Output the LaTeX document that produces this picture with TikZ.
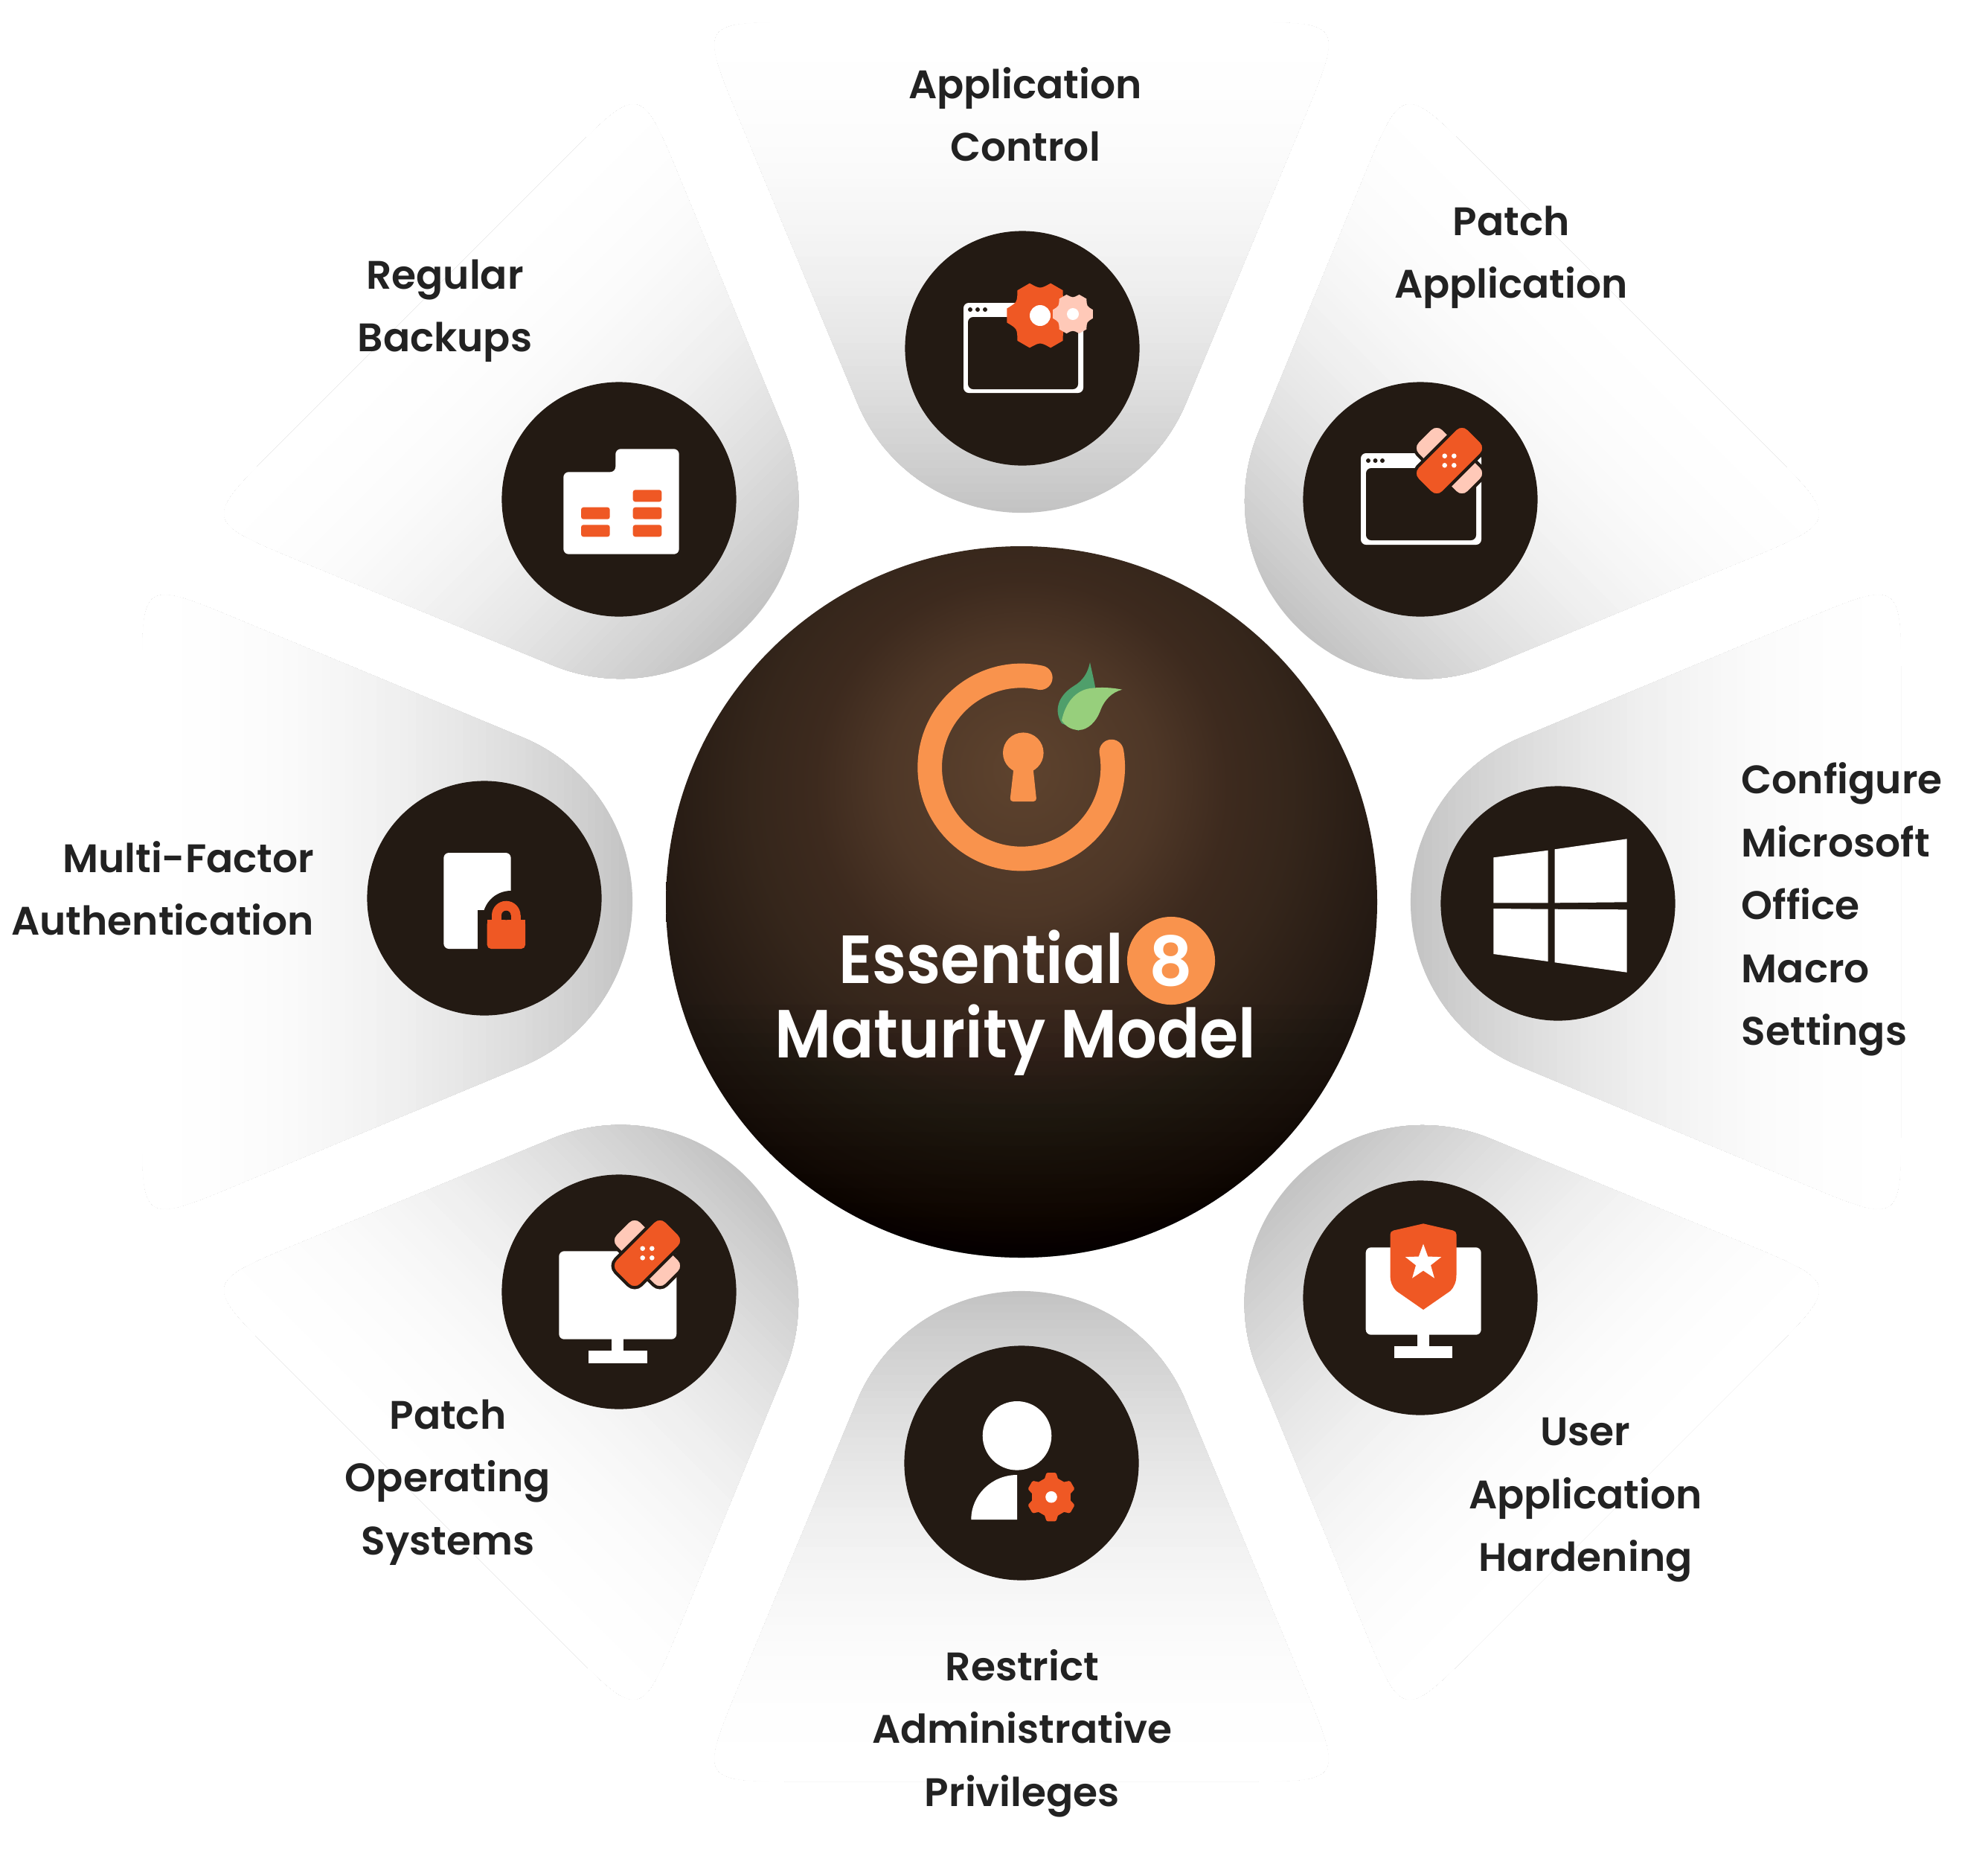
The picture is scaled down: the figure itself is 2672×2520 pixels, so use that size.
\documentclass[tikz,border=0pt]{standalone}
\usepackage{fontspec}
\setmainfont{Poppins SemiBold}
\newfontfamily\titlefont[FakeStretch=0.925]{Poppins SemiBold}
\definecolor{iconbg}{HTML}{231A13}
\definecolor{org}{HTML}{EF5824}
\definecolor{pale}{HTML}{FFC9B8}
\definecolor{ring}{HTML}{F9934D}
\definecolor{lab}{HTML}{222222}
\definecolor{leafd}{HTML}{4F9F6B}
\definecolor{leafl}{HTML}{97CF7C}
\definecolor{mg0}{HTML}{5E432E}
\definecolor{mg1}{HTML}{4E3727}
\definecolor{mg2}{HTML}{3D2A1E}
\definecolor{mg3}{HTML}{35261B}
\definecolor{mg4}{HTML}{291D15}
\definecolor{mg5}{HTML}{1D1510}
\definecolor{mg6}{HTML}{0C0806}
\pgfdeclareradialshading{mainglow}{\pgfpoint{0bp}{9.5bp}}{color(0bp)=(mg0); color(9.5bp)=(mg1); color(14.5bp)=(mg2); color(19bp)=(mg3); color(24bp)=(mg4); color(29bp)=(mg5); color(35bp)=(mg6); color(100bp)=(mg6)}
\tikzset{
  iconcirc/.style={circle,fill=iconbg,minimum size=3.15cm,inner sep=0pt},
  labeltext/.style={font=\fontsize{15.2}{24}\selectfont,text=lab,inner sep=0pt},
  titletext/.style={font=\titlefont\fontsize{26}{30}\selectfont,text=white,inner sep=0pt,anchor=base},
  rc/.style={rounded corners=2pt}
}
\newcommand\petal[2]{%
  \pgfmathsetmacro\petL{(#2-670.5)/.924}%
  \pgfmathsetmacro\petW{221+.383*\petL}%
  \pgfmathsetmacro\petA{\petW-.383*140}%
  \pgfmathsetmacro\petB{#2-.924*140}%
  \pgfmathsetmacro\petC{\petW-140}%
  \begin{scope}[shift={(1373,1212)},rotate=-#1,y=.01cm]
    \clip (221,670.5) arc[start angle=-22.5,end angle=-157.5,radius=239] -- (-\petA,\petB) .. controls (-\petW,#2) .. (-\petC,#2) -- (\petC,#2) .. controls (\petW,#2) .. (\petA,\petB) -- cycle;
    \foreach \i in {0,...,63}{%
      \pgfmathsetmacro\gv{1-.235*(1.0001-\i/63)^2.1}%
      \pgfmathsetmacro\yv{520+\i/63*(#2-520)}%
      \definecolor{bandc}{gray}{\gv}%
      \fill[bandc] (-700,\yv) rectangle (700,1300);
    }
  \end{scope}}
\newcommand\gearA[5]{% x,y,R,hole,colour
  \begin{scope}[shift={(#1,#2)}]
    \fill[#5] (12:#3) \foreach \a in {0,60,...,300}{ .. controls (\a+30:.78*#3) .. (\a+48:#3) -- (\a+72:#3)} -- cycle;
    \fill[white] (0,0) circle[radius=#4];
  \end{scope}}
\newcommand\bandage[2]{%
  \begin{scope}[shift={(#1,#2)}]
    \begin{scope}[rotate=-45]
      \filldraw[pale,draw=iconbg,line width=1.2pt,rounded corners=3.6pt] (-48.5,-24.5) rectangle (48.5,24.5);
    \end{scope}
    \begin{scope}[rotate=45]
      \filldraw[org,draw=iconbg,line width=1.2pt,rounded corners=3.6pt] (-48.5,-24.5) rectangle (48.5,24.5);
    \end{scope}
    \foreach \p in {(-6.3,-6.3),(6.3,-6.3),(-6.3,6.3),(6.3,6.3)}{\fill[white] \p circle[radius=3.3];}
  \end{scope}}
\begin{document}
\begin{tikzpicture}[x=.01cm,y=-.01cm]
\useasboundingbox (0,0) rectangle (2672,2520);
\fill[white] (0,0) rectangle (2672,2520);
% petals
\petal{0}{1182}\petal{45}{1140}\petal{90}{1182}\petal{135}{1140}\petal{180}{1182}\petal{225}{1140}\petal{270}{1182}\petal{315}{1140}
% main circle
\shade[shading=mainglow] (1373,1212) circle[radius=478];
\begin{scope}
  \clip (1373,1212) circle[radius=478];
  \foreach \i in {0,...,18}{\fill[black,opacity=.03] (880,1350+\i*19) rectangle (1870,1700);}
\end{scope}
% icon circles
\node[iconcirc] (topc) at (1374,468) {};
\node[iconcirc] (trc) at (1909,671) {};
\node[iconcirc] (tlc) at (832,671) {};
\node[iconcirc] (lc) at (651,1207) {};
\node[iconcirc] (rc) at (2094,1214) {};
\node[iconcirc] (brc) at (1909,1744) {};
\node[iconcirc] (bc) at (1373,1966) {};
\node[iconcirc] (blc) at (832,1736) {};
% logo ring
\begin{scope}[shift={(1372.7,1031)},y=.01cm]
  \draw[ring,line width=9.3pt,line cap=round] (78:123) arc[start angle=78,end angle=369.8,radius=123];
\end{scope}
\fill[ring] (1375.3,1011.7) circle[radius=27.3];
\fill[ring,rounded corners=1.2pt] (1362.7,1030) -- (1388.3,1030) -- (1393.3,1077) -- (1357.3,1077) -- cycle;
\fill[leafd] (1465,890) .. controls (1468,905) and (1471,915) .. (1473,930) -- (1450,982) -- (1427,972) .. controls (1416,955) and (1422,935) .. (1443,922) .. controls (1455,915) and (1462,905) .. (1465,890) -- cycle;
\fill[leafl] (1427,968) .. controls (1432,945) and (1445,928) .. (1465,925) .. controls (1480,923) and (1495,924) .. (1508.3,926.7) .. controls (1495,930) and (1484,940) .. (1478.3,956.7) .. controls (1473,970) and (1462,981) .. (1450,981) .. controls (1440,981) and (1432,976) .. (1427,968) -- cycle;
% title
\node[titletext] (essential) at (1319,1321) {Essential};
\node[titletext] (maturity) at (1365,1421) {Maturity Model};
\node[circle,fill=ring,minimum size=1.18cm,inner sep=0pt,text=white,font=\fontsize{26}{30}\selectfont] (eight) at (1574,1291) {8};
% labels
\node[labeltext,align=center] (ac) at (1378,154) {Application\\Control};
\node[labeltext,align=center] (pa) at (2031,346) {Patch\\Application};
\node[labeltext,align=center] (rb) at (598,418) {Regular\\Backups};
\node[labeltext,align=left,anchor=west] (cm) at (2340,1222) {Configure\\Microsoft\\Office\\Macro\\Settings};
\node[labeltext,align=right,anchor=east] (mf) at (423,1194) {Multi-Factor\\Authentication};
\node[labeltext,align=center] (po) at (602,1992) {Patch\\Operating\\Systems};
\node[labeltext,align=center] (ua) at (2131,2016) {User\\Application\\Hardening};
\node[labeltext,align=center] (ra) at (1374,2329) {Restrict\\Administrative\\Privileges};
% icon: top window with gears
\fill[white,rc] (1295,407) rectangle (1456,528);
\fill[iconbg,rc] (1301,426) rectangle (1449,523);
\foreach \x in {1304,1314,1324}{\fill[iconbg] (\x,416) circle[radius=3];}
\gearA{1398}{424}{45.6}{14}{org}
\gearA{1442}{422}{27.5}{8}{pale}
% icon: top right window with bandage
\fill[white,rc] (1829,609) rectangle (1991,732);
\fill[iconbg,rc] (1836,629) rectangle (1984,726);
\foreach \x in {1839,1848.5,1858}{\fill[iconbg] (\x,619) circle[radius=3];}
\bandage{1948}{619}
% icon: backups
\fill[white,rc] (757.3,744.7) -- (757.3,634.3) -- (827.3,634.3) -- (827.3,603.3) -- (912.7,603.3) -- (912.7,744.7) -- cycle;
\foreach \y in {681.7,705.3}{\fill[org,rounded corners=.9pt] (781,\y) rectangle +(38.7,16);}
\foreach \y in {658.3,681.7,705.3}{\fill[org,rounded corners=.9pt] (850.7,\y) rectangle +(38.6,16);}
% icon: MFA
\fill[white,rc] (596.3,1146) rectangle (686.7,1275);
\fill[iconbg] (686.7,1235) circle[radius=38];
\fill[iconbg] (641.7,1223) rectangle (700,1280);
\fill[org] (680.3,1230) circle[radius=19.3];
\fill[org] (661,1230) rectangle (699.7,1240);
\fill[org,rounded corners=1.5pt] (654.7,1275) -- (654.7,1236.3) -- (706,1236.3) -- (706,1275) -- cycle;
\fill[org] (654.7,1236.3) rectangle (706,1250);
\fill[iconbg] (680.3,1230) circle[radius=6.3];
\fill[iconbg] (674,1230) rectangle (686.6,1236.3);
% icon: Windows
\fill[white] (2007.3,1152.3) -- (2080.7,1142.7) -- (2080.7,1213.3) -- (2007.3,1213.3) -- cycle;
\fill[white] (2089.7,1141.3) -- (2186.7,1127.3) -- (2186.7,1212.3) -- (2089.7,1213.3) -- cycle;
\fill[white] (2007.3,1221) -- (2080.7,1221.7) -- (2080.7,1292) -- (2007.3,1282) -- cycle;
\fill[white] (2089.7,1221.7) -- (2186.7,1222.3) -- (2186.7,1306.7) -- (2089.7,1293.3) -- cycle;
% icon: monitor with bandage
\fill[white,rc] (751.3,1681.3) rectangle (909.3,1799.7);
\fill[white] (822.3,1795) rectangle (838.3,1816);
\fill[white] (790.7,1815.3) rectangle (869.7,1831.7);
\bandage{870}{1684}
% icon: monitor with shield
\fill[white,rc] (1835.7,1676.3) rectangle (1990.7,1793.7);
\fill[white] (1905.3,1790) rectangle (1920.7,1810);
\fill[white] (1874.3,1809.3) rectangle (1951.7,1824.7);
\fill[org] (1913,1644.3) -- (1953,1653.5) .. controls (1956,1654.5) and (1957.5,1656) .. (1957.5,1659) -- (1957.5,1713) .. controls (1957.5,1722) and (1955,1729) .. (1949,1735) -- (1913,1760) -- (1877,1735) .. controls (1871,1729) and (1868.5,1722) .. (1868.5,1713) -- (1868.5,1659) .. controls (1868.5,1656) and (1870,1654.5) .. (1873,1653.5) -- cycle;
\begin{scope}[shift={(1913,1697)},y=.01cm]
  \fill[white] (90:25.4) -- (126:10.5) -- (162:25.4) -- (198:10.5) -- (234:25.4) -- (270:10.5) -- (306:25.4) -- (342:10.5) -- (18:25.4) -- (54:10.5) -- cycle;
\end{scope}
% icon: user with gear
\fill[white] (1367,1929.3) circle[radius=46.3];
\fill[white] (1367,1982) .. controls (1333,1982) and (1305.3,2009) .. (1305.3,2042) -- (1367,2042) -- cycle;
\begin{scope}[shift={(1413,2011.7)}]
  \filldraw[org,line width=1.2pt,line join=round] (21:31) \foreach \a in {30,90,...,330}{ -- (\a-9:31) -- (\a+9:31) -- (\a+17:24.5) -- (\a+43:24.5)} -- cycle;
  \fill[white] (0,0) circle[radius=7.8];
\end{scope}
\end{tikzpicture}
\end{document}
